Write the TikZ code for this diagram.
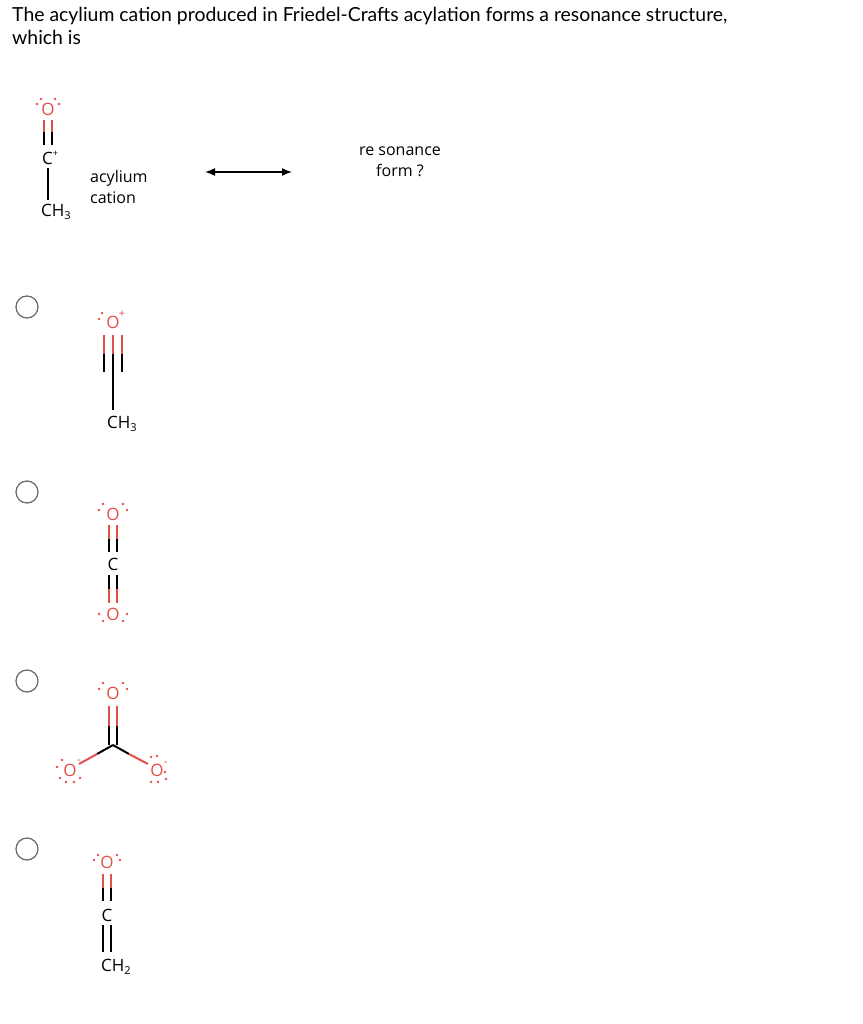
\documentclass[tikz,border=0pt]{standalone}
\usepackage{fontspec}
\usetikzlibrary{arrows.meta}
\setmainfont{Lato}
\newfontfamily\chem{Open Sans}
\definecolor{ored}{HTML}{E0504A}
\newcommand\sbs[1]{\raisebox{-0.35ex}{\fontsize{11}{11}\selectfont #1}}
\newcommand\sps[1]{\raisebox{0.8ex}{\fontsize{9}{9}\selectfont #1}}
\begin{document}
\begin{tikzpicture}[x=1pt,y=-1pt,
  atm/.style={font=\chem\fontsize{17}{17}\selectfont,inner sep=0pt},
  oatm/.style={atm,text=ored},
  lbl/.style={font=\chem\fontsize{16}{21}\selectfont,inner sep=0pt,align=left},
  bd/.style={line width=2pt},
  radio/.style={draw=black!60,line width=1.2pt,circle,minimum size=22pt,inner sep=0pt},
  dot/.style={fill=ored,circle,inner sep=1pt}]
\useasboundingbox (0,0) rectangle (862,1024);
\node[anchor=north west,align=left,font=\fontsize{19.4}{23}\selectfont,inner sep=0pt] (q) at (12,7)
 {The acylium cation produced in Friedel-Crafts acylation forms a resonance structure,\\which is};
\newcommand\rbond[4]{\draw[bd,ored] (#1,#2) -- (#1,{(#2+#3)/2}); \draw[bd] (#1,{(#2+#3)/2}) -- (#1,#3);}
% acylium
\node[oatm] (o0) at (48,109) {O};
\node[atm,anchor=west] (c0) at (42,158) {C\sps{+}};
\node[atm,anchor=west] (m0) at (41,212) {CH\sbs{3}};
\rbond{44}{120}{145}{}\rbond{52}{120}{145}{}
\draw[bd] (48,168) -- (48,200);
\foreach \p in {(37,104),(41,99),(55,99),(59,104)} \node[dot] at \p {};
\node[lbl,anchor=west] (ac) at (90,187) {acylium\\cation};
\coordinate (a1) at (205,172); \coordinate (a2) at (292,172);
\draw[{Latex[length=10pt,width=8pt]}-{Latex[length=10pt,width=8pt]},line width=1.5pt] (a1) -- (a2);
\node[lbl,align=center] (rf) at (400,162) {re sonance\\form ?};
% radios
\foreach \y/\n in {307/r1,492/r2,681/r3,849/r4} \node[radio] (\n) at (27,\y) {};
% option 1
\node[oatm] (o1) at (113,322) {O};
\node[font=\chem\fontsize{11}{11}\selectfont,text=ored,inner sep=0pt] at (122,314) {+};
\node[dot] at (99,319) {}; \node[dot] at (102,313) {};
\rbond{104}{335}{372}{}\rbond{122}{335}{372}{}
\draw[bd,ored] (113,335) -- (113,354); \draw[bd] (113,354) -- (113,410);
\node[atm,anchor=west] (m1) at (107,424) {CH\sbs{3}};
% option 2
\node[oatm] (o2a) at (113,514) {O};
\node[atm] (c2) at (113,564) {C};
\node[oatm] (o2b) at (113,614) {O};
\rbond{109}{525}{552}{}\rbond{117}{525}{552}{}
\draw[bd] (109,575) -- (109,589); \draw[bd,ored] (109,589) -- (109,603);
\draw[bd] (117,575) -- (117,589); \draw[bd,ored] (117,589) -- (117,603);
\foreach \p in {(99,510),(103,504),(123,504),(127,510),(99,614),(103,621),(123,621),(127,614)} \node[dot] at \p {};
% option 3
\node[oatm] (o3) at (113,693) {O};
\foreach \p in {(99,689),(103,683),(123,683),(127,689)} \node[dot] at \p {};
\rbond{109}{706}{745}{}\rbond{117}{706}{745}{}
\coordinate (c3) at (113,745);
\node[oatm] (o3l) at (70,770) {O};
\node[oatm] (o3r) at (157,770) {O};
\node[font=\chem\fontsize{11}{11}\selectfont,text=ored,inner sep=0pt] at (79,762) {-};
\node[font=\chem\fontsize{11}{11}\selectfont,text=ored,inner sep=0pt] at (166,764) {-};
\draw[bd] (c3) -- (97,754); \draw[bd,ored] (97,754) -- (79,764);
\draw[bd] (c3) -- (129,754); \draw[bd,ored] (129,754) -- (148,764);
\foreach \p in {(57,767),(62,760),(60,778),(66,782),(74,782),(80,778),(151,757),(157,756),(165,772),(166,779),(151,782),(158,782)} \node[dot] at \p {};
% option 4
\node[oatm] (o4) at (107,862) {O};
\foreach \p in {(94,860),(98,855),(117,855),(120,860)} \node[dot] at \p {};
\node[atm] (c4) at (107,915) {C};
\node[atm,anchor=west] (m4) at (101,967) {CH\sbs{2}};
\rbond{103}{874}{901}{}\rbond{111}{874}{901}{}
\draw[bd] (103,925) -- (103,952); \draw[bd] (111,925) -- (111,952);
\end{tikzpicture}
\end{document}
